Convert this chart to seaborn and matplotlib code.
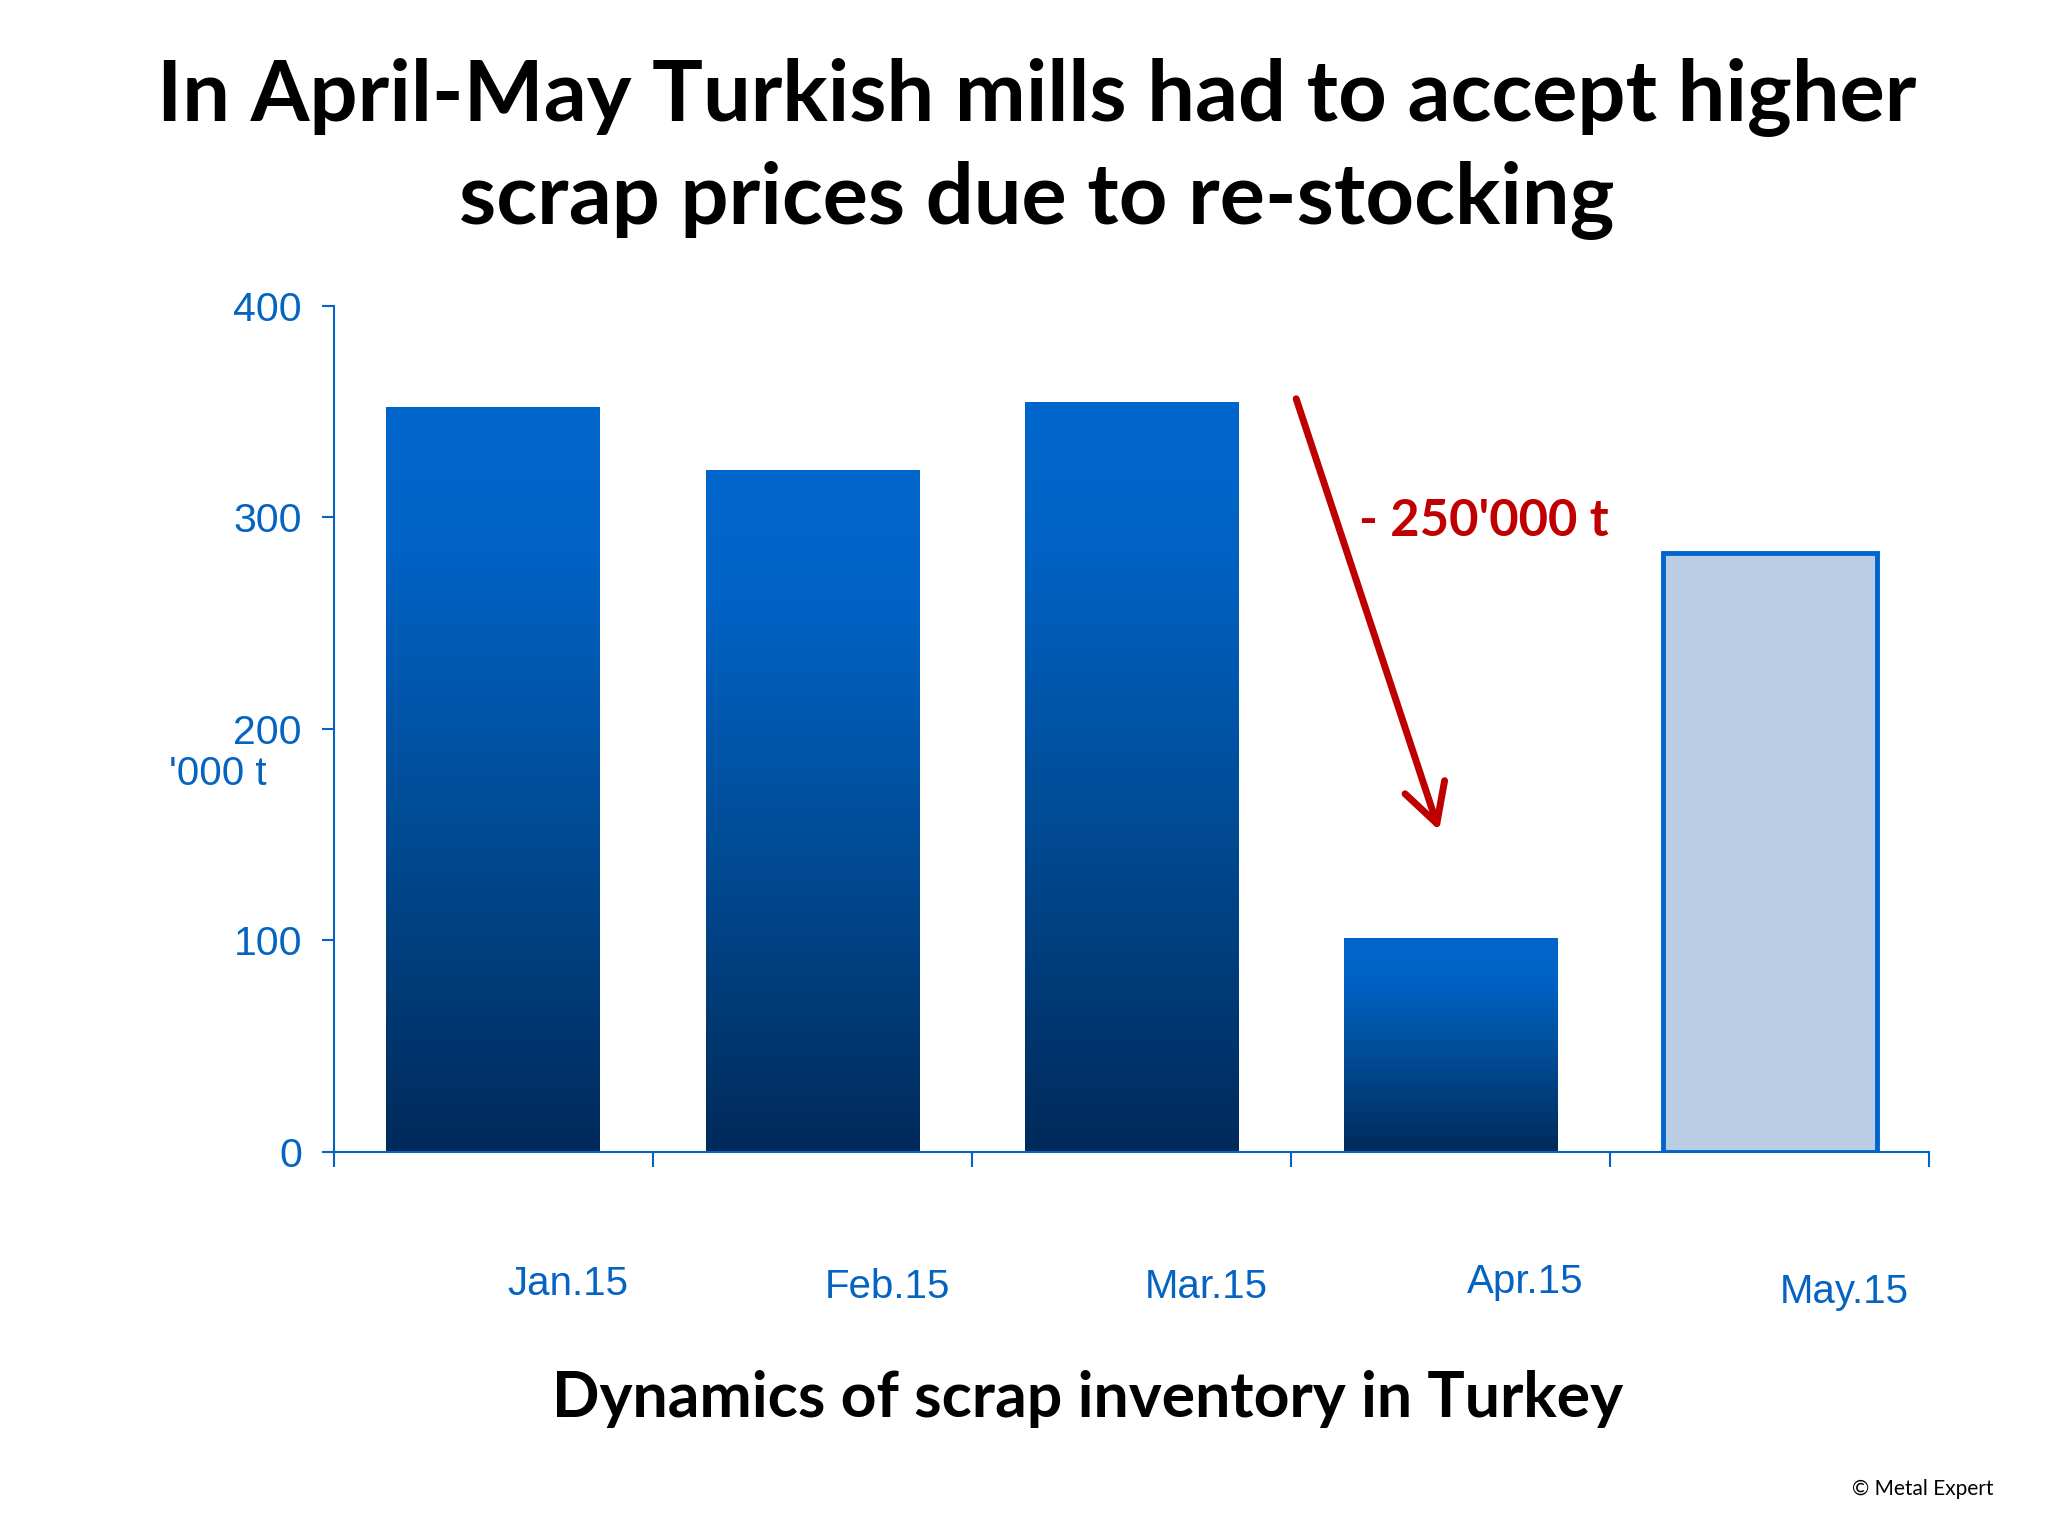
"""
Scrap inventory in Turkey, Jan-May 2015
"""
import numpy as np
import pandas as pd
import matplotlib
matplotlib.use("Agg")
import matplotlib.pyplot as plt
from matplotlib.colors import LinearSegmentedColormap
import seaborn as sns

# data
months = ["Jan.15", "Feb.15", "Mar.15", "Apr.15", "May.15"]
inventory = [352, 322, 354, 101, 283]
y_ticks = [0, 100, 200, 300, 400]

title = "In April-May Turkish mills had to accept higher\nscrap prices due to re-stocking"
subtitle = "Dynamics of scrap inventory in Turkey"
drop_label = "- 250'000 t"

BLUE = "#0563C1"
RED = "#C00000"

sns.set_theme(style="white")
plt.rcParams["font.family"] = ["Liberation Sans", "DejaVu Sans"]

df = pd.DataFrame({"month": months, "value": inventory})

fig = plt.figure(figsize=(20.48, 15.36), dpi=100)
ax = fig.add_axes([0.163, 0.25, 0.779, 0.551])

sns.barplot(data=df, x="month", y="value", order=months, width=0.67,
            color="#0066CC", saturation=1, ax=ax, zorder=2)

# vertical gradient on the first four bars, light fill on the last
grad_cmap = LinearSegmentedColormap.from_list(
    "bar_grad", [(0.0, "#002A5A"), (0.45, "#004C96"), (0.8, "#0062C4"), (1.0, "#0066CC")])
grad = np.linspace(0, 1, 256).reshape(-1, 1)
for i, patch in enumerate(ax.patches):
    x0, w, h = patch.get_x(), patch.get_width(), patch.get_height()
    if i < len(months) - 1:
        patch.set_facecolor("none")
        patch.set_edgecolor("none")
        ax.imshow(grad, extent=[x0, x0 + w, 0, h], origin="lower",
                  aspect="auto", cmap=grad_cmap, zorder=1.5)
    else:
        patch.set_facecolor("#B9CDE5")
        patch.set_edgecolor("#0066CC")
        patch.set_linewidth(3.5)

ax.set_xlim(-0.5, len(months) - 0.5)
ax.set_ylim(0, 400)

# axes styling
for side in ["top", "right"]:
    ax.spines[side].set_visible(False)
for side in ["left", "bottom"]:
    ax.spines[side].set_color(BLUE)
    ax.spines[side].set_linewidth(1.5)

ax.set_yticks(y_ticks)
ax.set_yticklabels([str(t) for t in y_ticks])
ax.tick_params(axis="y", direction="out", length=9, width=1.5, color=BLUE,
               labelcolor=BLUE, labelsize=29.5, pad=14, left=True)
ax.set_xticks(np.arange(-0.5, len(months), 1.0))
ax.set_xticklabels([])
ax.tick_params(axis="x", direction="out", length=11, width=1.5, color=BLUE, bottom=True)

ax.set_xlabel("")
ax.set_ylabel("'000 t", rotation=0, color=BLUE, fontsize=29, ha="center", va="center")
ax.yaxis.set_label_coords(-0.073, 0.447)

# month labels sit well below the axis, shifted right
label_dy = [0.0, -0.004, -0.004, 0.002, -0.009]
for i, m in enumerate(months):
    ax.text(i + 0.235, -0.156 + label_dy[i], m, transform=ax.get_xaxis_transform(),
            ha="center", va="center", color=BLUE, fontsize=29)

# drop annotation
ax.annotate("", xy=(2.964, 152), xytext=(2.516, 356),
            arrowprops=dict(arrowstyle="->,head_length=0.55,head_width=0.3",
                            lw=5, color=RED, mutation_scale=50, shrinkA=0, shrinkB=0))
ax.text(3.105, 298, drop_label, color=RED, fontsize=36.5, fontweight="bold",
        ha="center", va="center", family=["Lato", "DejaVu Sans"])

# titles
fig.text(0.506, 0.9035, title, ha="center", va="center", fontsize=61,
         fontweight="bold", color="black", linespacing=1.39, family=["Lato", "DejaVu Sans"])
fig.text(0.531, 0.089, subtitle, ha="center", va="center", fontsize=45,
         fontweight="bold", color="black", family=["Lato", "DejaVu Sans"])
fig.text(0.939, 0.0305, "\u00a9 Metal Expert", ha="center", va="center", fontsize=15,
         color="black", family=["Lato", "DejaVu Sans"])

fig.savefig("out.png", dpi=100, facecolor="white")
plt.close(fig)
